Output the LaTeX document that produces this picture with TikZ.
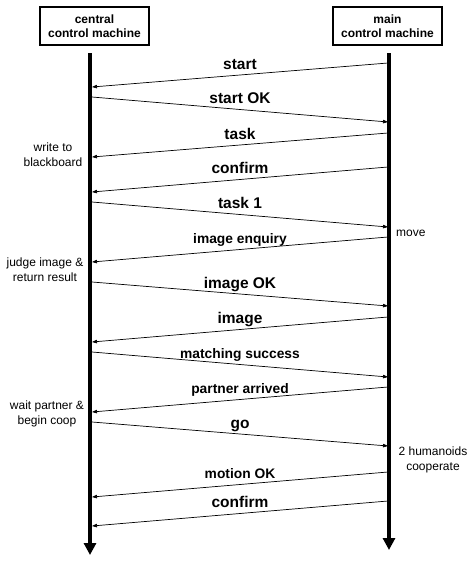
\documentclass[tikz,border=0pt]{standalone}
\usepackage{fontspec}
\setmainfont{Liberation Sans}
\usetikzlibrary{arrows.meta,positioning}

\begin{document}
\begin{tikzpicture}[x=1pt, y=-1pt,
        machine/.style={draw, line width=1.6pt, minimum width=109pt, minimum height=38pt,
          align=center, inner sep=2pt, font=\bfseries\fontsize{12}{14}\selectfont},
        life/.style={line width=3.6pt, -{Triangle[width=12pt,length=12pt]}},
        msg/.style={line width=0.7pt, -{Triangle[width=3.5pt,length=5pt]}},
        big/.style={anchor=base, yshift=6pt, inner sep=0pt, font=\bfseries\fontsize{15.5}{18}\selectfont},
        small/.style={anchor=base, yshift=6pt, inner sep=0pt, font=\bfseries\fontsize{13.8}{16}\selectfont},
        note/.style={align=center, inner sep=0pt, font=\fontsize{12}{15}\selectfont}
        ]
        \useasboundingbox (0,0) rectangle (474,579);
        \node[machine] (ccm) at (94.5,26) {central\\control machine};
        \node[machine] (mcm) at (387.5,26) {main\\control machine};
        % life lines
        \coordinate (cT) at (90,53);  \coordinate (cB) at (90,555);
        \coordinate (mT) at (389,53); \coordinate (mB) at (389,550);
        \draw[life] (cT) -- (cB);
        \draw[life] (mT) -- (mB);
        % message ends
        \coordinate (m1) at (388,63);  \coordinate (c1) at (92,87);
        \coordinate (c2) at (92,97);   \coordinate (m2) at (388,122);
        \coordinate (m3) at (388,133); \coordinate (c3) at (92,157);
        \coordinate (m4) at (388,167); \coordinate (c4) at (92,192);
        \coordinate (c5) at (92,202);  \coordinate (m5) at (388,227);
        \coordinate (m6) at (388,237); \coordinate (c6) at (92,262);
        \coordinate (c7) at (92,282);  \coordinate (m7) at (388,306);
        \coordinate (m8) at (388,317); \coordinate (c8) at (92,342);
        \coordinate (c9) at (92,352);  \coordinate (m9) at (388,377);
        \coordinate (m10) at (388,387); \coordinate (c10) at (92,412);
        \coordinate (c11) at (92,422);  \coordinate (m11) at (388,446);
        \coordinate (m12) at (388,472); \coordinate (c12) at (92,497);
        \coordinate (m13) at (388,501); \coordinate (c13) at (92,526);
        % messages
        \draw[msg] (m1) -- node[big] {start} (c1);
        \draw[msg] (c2) -- node[big] {start OK} (m2);
        \draw[msg] (m3) -- node[big] {task} (c3);
        \draw[msg] (m4) -- node[big] {confirm} (c4);
        \draw[msg] (c5) -- node[big] {task 1} (m5);
        \draw[msg] (m6) -- node[small] {image enquiry} (c6);
        \draw[msg] (c7) -- node[big] {image OK} (m7);
        \draw[msg] (m8) -- node[big] {image} (c8);
        \draw[msg] (c9) -- node[small] {matching success} (m9);
        \draw[msg] (m10) -- node[small] {partner arrived} (c10);
        \draw[msg] (c11) -- node[big] {go} (m11);
        \draw[msg] (m12) -- node[small] {motion OK} (c12);
        \draw[msg] (m13) -- node[big] {confirm} (c13);
        % notes beside the life lines
        \node[note] (n1) at (53,155) {write to\\blackboard};
        \node[note, anchor=west] (n2) at (396,233) {move};
        \node[note] (n3) at (45,270) {judge image \&\\return result};
        \node[note] (n4) at (47,414) {wait partner \&\\begin coop};
        \node[note] (n5) at (433,460) {2 humanoids\\cooperate};
\end{tikzpicture}
\end{document}
